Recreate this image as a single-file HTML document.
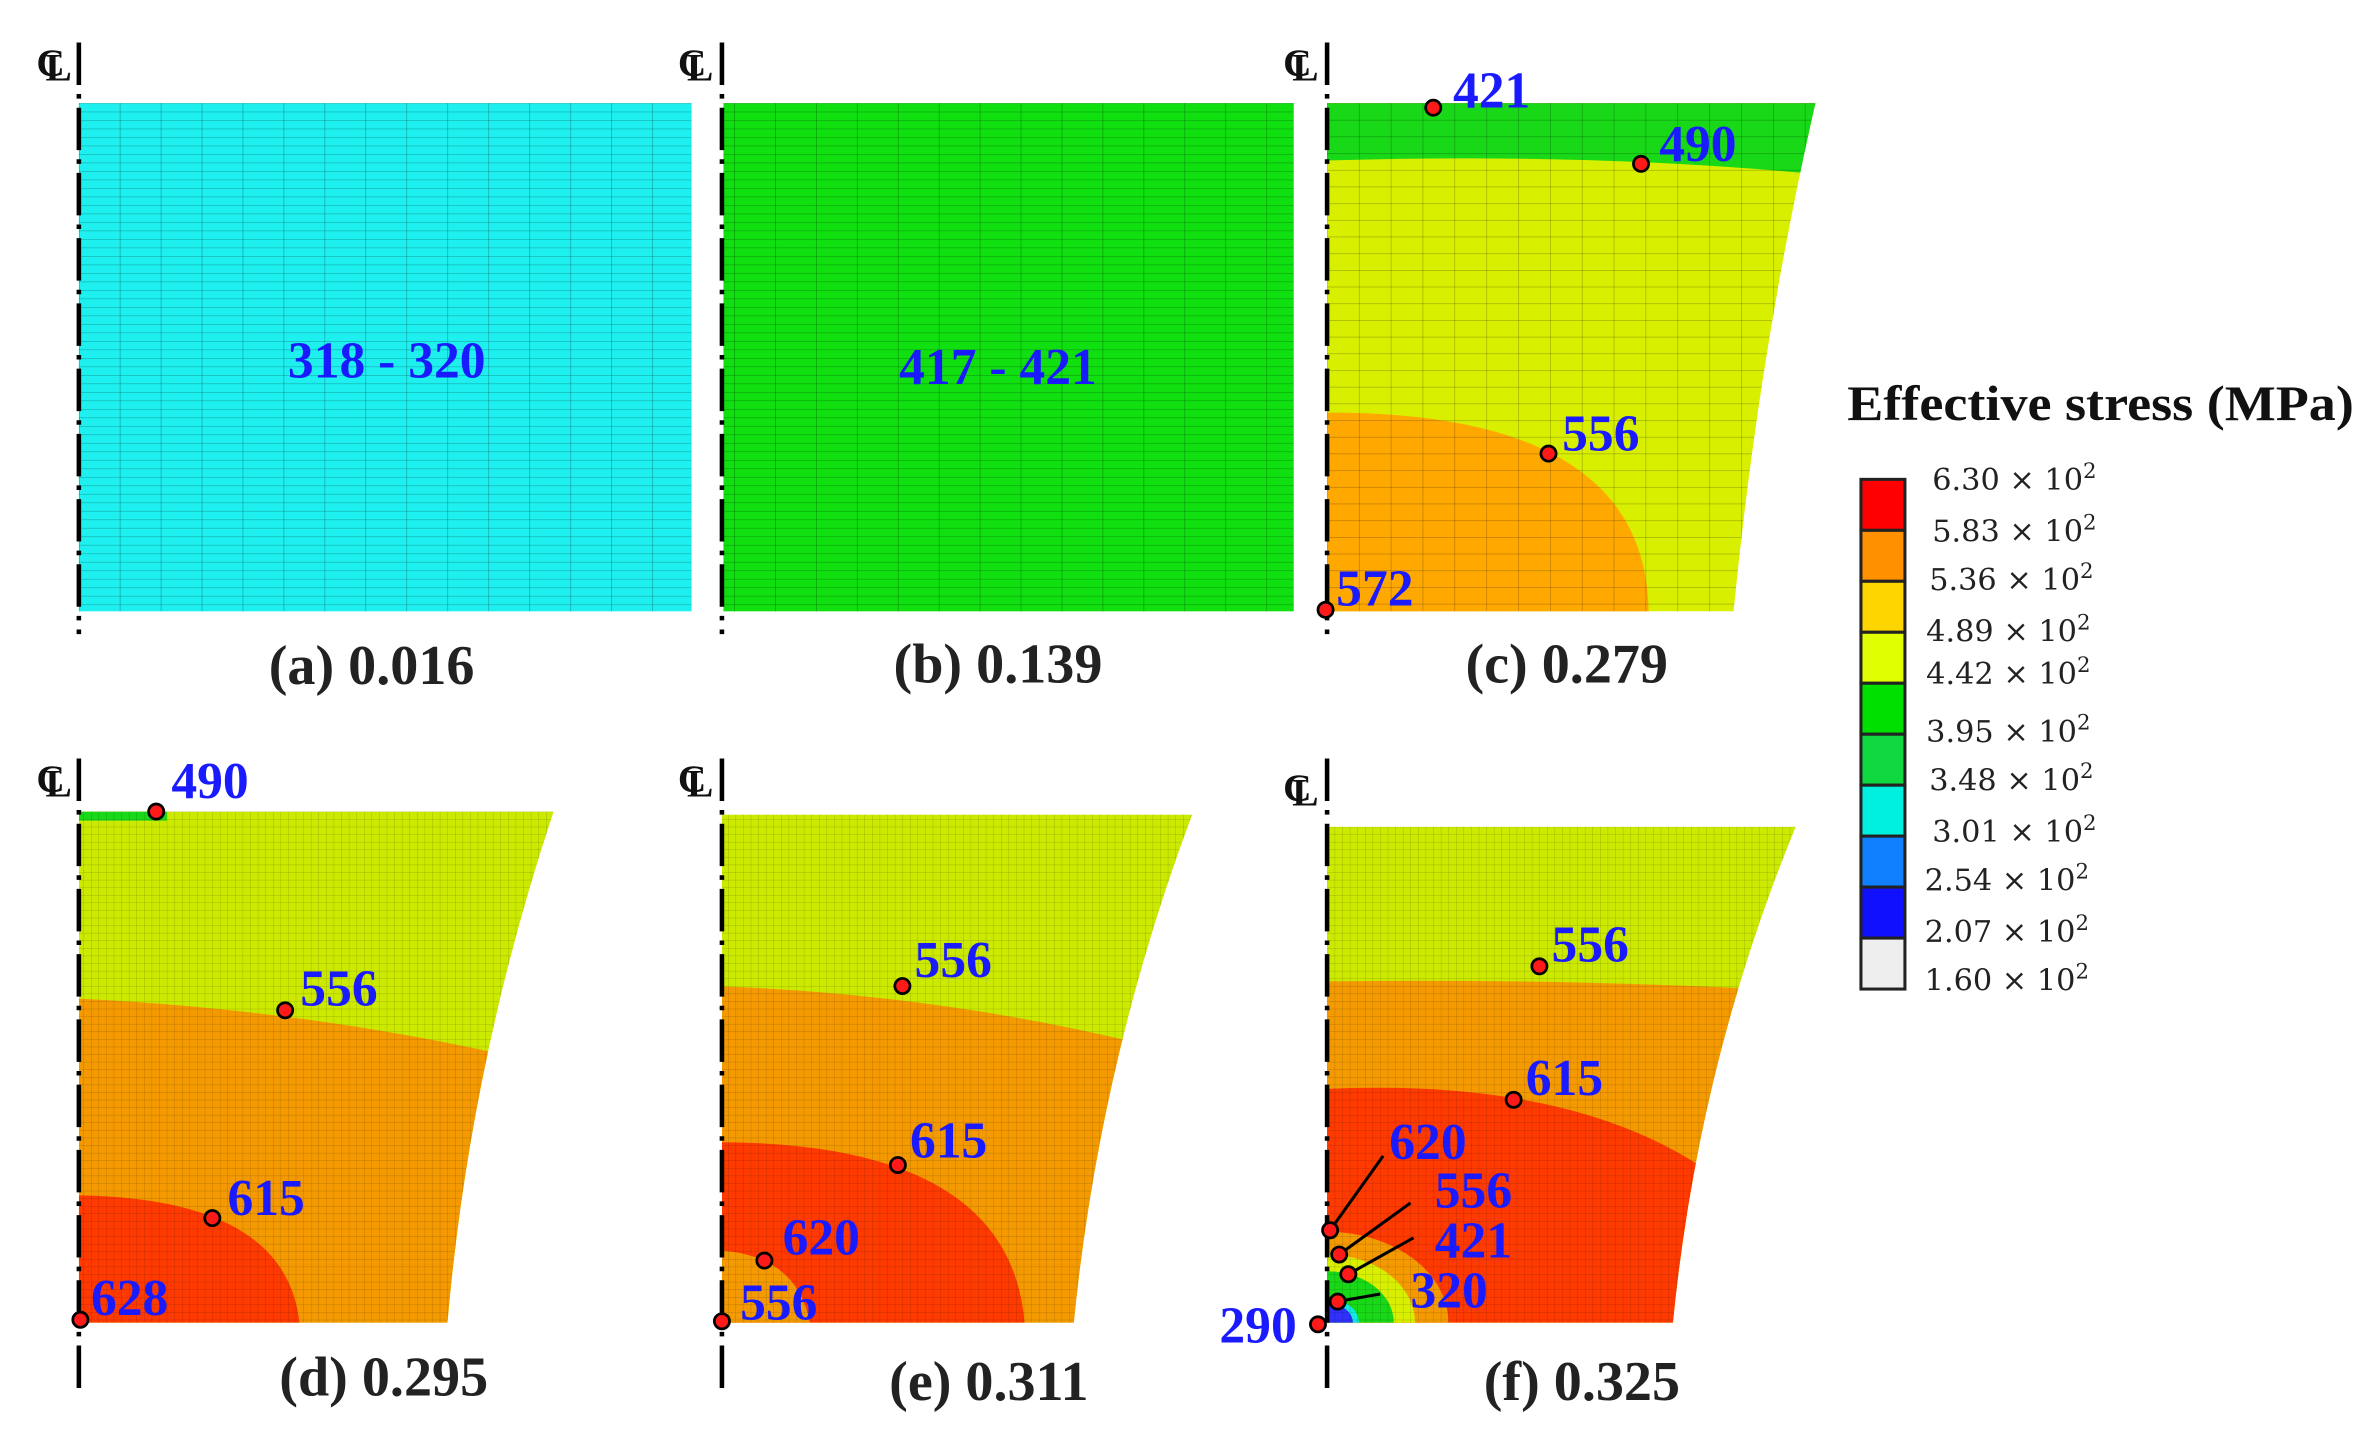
<!DOCTYPE html>
<html><head><meta charset="utf-8"><style>
html,body{margin:0;padding:0;background:#fff;}
svg{display:block;}
.cap{font-family:"Liberation Serif",serif;font-weight:bold;font-size:37px;fill:#222;}
.lbl{font-family:"Liberation Serif",serif;font-weight:bold;font-size:34px;fill:#1a1aff;}
.leg{font-family:"DejaVu Serif","Liberation Serif",serif;font-size:20px;fill:#222;}
.cl{font-family:"Liberation Serif",serif;font-weight:bold;font-size:26px;fill:#111;}
</style></head><body>
<svg width="2366" height="1432" viewBox="0 0 1560 944" preserveAspectRatio="none" xmlns="http://www.w3.org/2000/svg">
<defs>
<pattern id="pA" width="27" height="5.6" patternUnits="userSpaceOnUse" x="52" y="68">
<line x1="0" y1="0" x2="27" y2="0" stroke="#000" stroke-opacity="0.28" stroke-width="0.9"/>
<line x1="0" y1="0" x2="0" y2="5.6" stroke="#000" stroke-opacity="0.35" stroke-width="0.8"/>
</pattern>
<pattern id="pC" width="21" height="11" patternUnits="userSpaceOnUse" x="875" y="68">
<line x1="0" y1="0" x2="21" y2="0" stroke="#000" stroke-opacity="0.3" stroke-width="0.8"/>
<line x1="0" y1="0" x2="0" y2="11" stroke="#000" stroke-opacity="0.3" stroke-width="0.8"/>
</pattern>
<pattern id="pF" width="5" height="5" patternUnits="userSpaceOnUse">
<line x1="0" y1="0" x2="5" y2="0" stroke="#000" stroke-opacity="0.22" stroke-width="0.6"/>
<line x1="0" y1="0" x2="0" y2="5" stroke="#000" stroke-opacity="0.22" stroke-width="0.6"/>
</pattern>
<clipPath id="cc"><path d="M875,68 L1197,68 Q1160,230 1143,403 L875,403 Z"/></clipPath>
<clipPath id="cd"><path d="M52,535 L365,535 Q310,700 295,872 L52,872 Z"/></clipPath>
<clipPath id="ce"><path d="M476,537 L786,537 Q725,700 708,872 L476,872 Z"/></clipPath>
<clipPath id="cf"><path d="M875,545 L1184,545 Q1120,700 1103,872 L875,872 Z"/></clipPath>
</defs>

<rect x="52" y="68" width="404" height="335" fill="#1ef0f0"/>
<rect x="52" y="68" width="404" height="335" fill="url(#pA)"/>
<text class="lbl" x="255" y="249" text-anchor="middle">318 - 320</text>
<rect x="477" y="68" width="376" height="335" fill="#10e010"/>
<rect x="477" y="68" width="376" height="335" fill="url(#pA)"/>
<text class="lbl" x="658" y="253" text-anchor="middle">417 - 421</text>

<g clip-path="url(#cc)">
<rect x="870" y="60" width="340" height="350" fill="#d8f000"/>
<path d="M870,60 L1210,60 L1210,116 Q1050,100 870,106 Z" fill="#18d818"/>
<path d="M870,272 Q1085,270 1087,403 L870,410 Z" fill="#ffa800"/>
<rect x="870" y="60" width="340" height="350" fill="url(#pC)"/>
</g>

<g clip-path="url(#cd)">
<rect x="45" y="530" width="330" height="350" fill="#ccea00"/>
<path d="M45,530 L110,530 L110,541 L45,541 Z" fill="#18d818"/>
<path d="M45,658 Q200,665 340,697 L340,880 L45,880 Z" fill="#f49a00"/>
<path d="M45,788 Q195,788 198,880 L45,880 Z" fill="#ff3a00"/>
<rect x="45" y="530" width="330" height="350" fill="url(#pF)"/>
</g>

<g clip-path="url(#ce)">
<rect x="470" y="530" width="330" height="350" fill="#ccea00"/>
<path d="M470,650 Q620,655 760,690 L760,880 L470,880 Z" fill="#f49a00"/>
<path d="M470,753 Q672,752 676,880 L470,880 Z" fill="#ff3a00"/>
<path d="M470,824 Q530,826 535,880 L470,880 Z" fill="#f49a00"/>
<rect x="470" y="530" width="330" height="350" fill="url(#pF)"/>
</g>

<g clip-path="url(#cf)">
<rect x="870" y="540" width="330" height="340" fill="#ccea00"/>
<path d="M870,647 Q1020,645 1160,652 L1160,880 L870,880 Z" fill="#f49a00"/>
<path d="M870,718 Q1030,710 1120,768 L1120,880 L870,880 Z" fill="#ff3a00"/>
<ellipse cx="875" cy="872" rx="80" ry="60" fill="#f49a00"/>
<ellipse cx="875" cy="872" rx="58" ry="45" fill="#d8f000"/>
<ellipse cx="875" cy="872" rx="44" ry="34" fill="#18d818"/>
<ellipse cx="875" cy="872" rx="21" ry="16" fill="#10e8e0"/>
<ellipse cx="875" cy="872" rx="17" ry="13" fill="#3030ff"/>
<rect x="870" y="540" width="330" height="340" fill="url(#pF)"/>
</g>

<g stroke="#000" stroke-width="3" stroke-dasharray="28,6,3,6">
<line x1="52" y1="28" x2="52" y2="418"/>
<line x1="476" y1="28" x2="476" y2="418"/>
<line x1="875" y1="28" x2="875" y2="418"/>
<line x1="52" y1="500" x2="52" y2="918"/>
<line x1="476" y1="500" x2="476" y2="918"/>
<line x1="875" y1="500" x2="875" y2="918"/>
</g>
<g class="cl">
<text x="24" y="50">C</text><text x="30" y="53">L</text>
<text x="447" y="50">C</text><text x="453" y="53">L</text>
<text x="846" y="50">C</text><text x="852" y="53">L</text>
<text x="24" y="522">C</text><text x="30" y="525">L</text>
<text x="447" y="522">C</text><text x="453" y="525">L</text>
<text x="846" y="528">C</text><text x="852" y="531">L</text>
</g>

<g stroke="#000" stroke-width="2">
<line x1="877" y1="811" x2="912" y2="762"/>
<line x1="883" y1="827" x2="930" y2="793"/>
<line x1="889" y1="840" x2="932" y2="816"/>
<line x1="882" y1="858" x2="910" y2="853"/>
</g>

<g fill="#ff1a1a" stroke="#000" stroke-width="1.8">
<circle cx="945" cy="71" r="5"/><circle cx="1082" cy="108" r="5"/><circle cx="1021" cy="299" r="5"/><circle cx="874" cy="402" r="5"/>
<circle cx="103" cy="535" r="5"/><circle cx="188" cy="666" r="5"/><circle cx="140" cy="803" r="5"/><circle cx="53" cy="870" r="5"/>
<circle cx="595" cy="650" r="5"/><circle cx="592" cy="768" r="5"/><circle cx="504" cy="831" r="5"/><circle cx="476" cy="871" r="5"/>
<circle cx="1015" cy="637" r="5"/><circle cx="998" cy="725" r="5"/><circle cx="877" cy="811" r="5"/><circle cx="883" cy="827" r="5"/><circle cx="889" cy="840" r="5"/><circle cx="882" cy="858" r="5"/><circle cx="869" cy="873" r="5"/>
</g>

<g class="lbl">
<text x="958" y="71">421</text><text x="1094" y="106">490</text><text x="1030" y="297">556</text><text x="881" y="399">572</text>
<text x="113" y="526">490</text><text x="198" y="663">556</text><text x="150" y="801">615</text><text x="60" y="867">628</text>
<text x="603" y="644">556</text><text x="600" y="763">615</text><text x="516" y="827">620</text><text x="488" y="870">556</text>
<text x="1023" y="634">556</text><text x="1006" y="722">615</text><text x="916" y="764">620</text><text x="946" y="796">556</text><text x="946" y="829">421</text><text x="930" y="862">320</text><text x="804" y="885">290</text>
</g>

<g class="cap" text-anchor="middle">
<text x="245" y="451">(a) 0.016</text>
<text x="658" y="450">(b) 0.139</text>
<text x="1033" y="450">(c) 0.279</text>
<text x="253" y="920">(d) 0.295</text>
<text x="652" y="923">(e) 0.311</text>
<text x="1043" y="923">(f) 0.325</text>
</g>

<text x="1218" y="277" font-family="Liberation Serif,serif" font-weight="bold" font-size="33" fill="#111" textLength="334" lengthAdjust="spacingAndGlyphs">Effective stress (MPa)</text>
<g stroke="#222" stroke-width="2">
<rect x="1227" y="316" width="29" height="33.6" fill="#ff0000"/>
<rect x="1227" y="349.6" width="29" height="33.6" fill="#ff9100"/>
<rect x="1227" y="383.2" width="29" height="33.6" fill="#ffd500"/>
<rect x="1227" y="416.8" width="29" height="33.6" fill="#e0ff00"/>
<rect x="1227" y="450.4" width="29" height="33.6" fill="#00e000"/>
<rect x="1227" y="484" width="29" height="33.6" fill="#10d840"/>
<rect x="1227" y="517.6" width="29" height="33.6" fill="#00f0e0"/>
<rect x="1227" y="551.2" width="29" height="33.6" fill="#1080ff"/>
<rect x="1227" y="584.8" width="29" height="33.6" fill="#1010ff"/>
<rect x="1227" y="618.4" width="29" height="33.6" fill="#eeeeee"/>
</g>
<g class="leg">
<text x="1274" y="323">6.30 × 10<tspan dy="-8" font-size="14">2</tspan></text>
<text x="1274" y="357">5.83 × 10<tspan dy="-8" font-size="14">2</tspan></text>
<text x="1272" y="389">5.36 × 10<tspan dy="-8" font-size="14">2</tspan></text>
<text x="1270" y="423">4.89 × 10<tspan dy="-8" font-size="14">2</tspan></text>
<text x="1270" y="451">4.42 × 10<tspan dy="-8" font-size="14">2</tspan></text>
<text x="1270" y="489">3.95 × 10<tspan dy="-8" font-size="14">2</tspan></text>
<text x="1272" y="521">3.48 × 10<tspan dy="-8" font-size="14">2</tspan></text>
<text x="1274" y="555">3.01 × 10<tspan dy="-8" font-size="14">2</tspan></text>
<text x="1269" y="587">2.54 × 10<tspan dy="-8" font-size="14">2</tspan></text>
<text x="1269" y="621">2.07 × 10<tspan dy="-8" font-size="14">2</tspan></text>
<text x="1269" y="653">1.60 × 10<tspan dy="-8" font-size="14">2</tspan></text>
</g>
</svg>
</body></html>
